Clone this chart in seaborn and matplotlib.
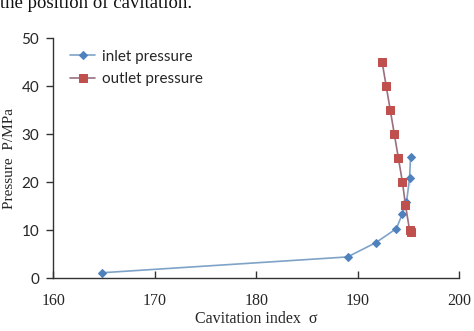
import matplotlib
matplotlib.use("Agg")
import matplotlib.pyplot as plt
import seaborn as sns
import pandas as pd

# Inlet pressure vs cavitation index
inlet_sigma = [164.8, 189.0, 191.8, 193.8, 194.4, 194.8, 195.1, 195.1, 195.2]
inlet_p = [1.1, 4.4, 7.4, 10.3, 13.4, 15.8, 19.3, 22.2, 25.3]

# Outlet pressure vs cavitation index
outlet_sigma = [192.4, 192.8, 193.2, 193.6, 194.0, 194.4, 194.7, 195.1, 195.2]
outlet_p = [45.0, 40.0, 35.0, 30.0, 25.0, 20.0, 15.2, 10.0, 9.6]

x_ticks = [160, 170, 180, 190, 200]
y_ticks = [0, 10, 20, 30, 40, 50]

inlet = pd.DataFrame({"sigma": inlet_sigma, "p": inlet_p})
outlet = pd.DataFrame({"sigma": outlet_sigma, "p": outlet_p})

sns.set_theme(style="white")
plt.rcParams["font.family"] = ["Liberation Serif", "DejaVu Serif"]

fig = plt.figure(figsize=(4.74, 3.31), dpi=100)
ax = fig.add_axes([0.112, 0.160, 0.857, 0.725])

blue = "#4f81bd"
red = "#c0504d"

sns.lineplot(data=inlet, x="sigma", y="p", sort=False, ax=ax,
             color="#7fa3c8", linewidth=1.2, marker="D", markersize=4,
             markerfacecolor=blue, markeredgecolor=blue,
             label="inlet pressure")
sns.lineplot(data=outlet, x="sigma", y="p", sort=False, ax=ax,
             color="#9a6f80", linewidth=1.2, marker="s", markersize=6,
             markerfacecolor=red, markeredgecolor=red,
             label="outlet pressure")

ax.set_xlim(160, 200)
ax.set_ylim(0, 50)
ax.set_xticks(x_ticks)
ax.set_yticks(y_ticks)
ax.set_xticklabels([str(v) for v in x_ticks], fontsize=11.5,
                   family=["Liberation Serif"])
ax.set_yticklabels([str(v) for v in y_ticks], fontsize=11,
                   family=["Lato"])
ax.tick_params(axis="x", direction="in", length=5, width=1, color="#333333",
               pad=11, bottom=True)
ax.tick_params(axis="y", direction="out", length=5, width=1, color="#333333",
               pad=5, left=True)

ax.set_xlabel("Cavitation index  σ", fontsize=11.5, labelpad=1)
ax.set_ylabel("Pressure  P/MPa", fontsize=11, labelpad=4)

sns.despine(ax=ax)
for s in ("left", "bottom"):
    ax.spines[s].set_color("#333333")
    ax.spines[s].set_linewidth(1.0)

leg = ax.legend(loc="upper left", frameon=False,
                prop={"family": "Lato", "size": 11},
                handlelength=1.6, handletextpad=0.5, borderaxespad=0.2,
                labelspacing=0.55, bbox_to_anchor=(0.02, 0.99))

fig.text(0.0, 1 - 8.3 / 331, "the position of cavitation.", fontsize=13.5,
         va="baseline", ha="left", color="#111111")

fig.savefig("out.png", dpi=100)
